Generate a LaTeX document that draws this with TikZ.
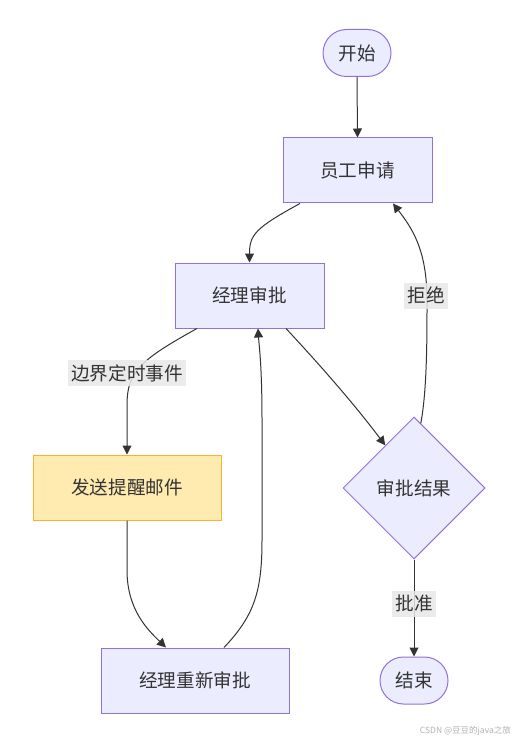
\documentclass[tikz,border=0pt]{standalone}
\usepackage{fontspec}
\setmainfont{Noto Sans CJK SC}
\usetikzlibrary{arrows.meta,shapes.geometric}
\definecolor{nfill}{HTML}{ECECFF}
\definecolor{nline}{HTML}{9370DB}
\definecolor{yfill}{HTML}{FFEBB0}
\definecolor{yline}{HTML}{FDB12F}
\definecolor{txt}{HTML}{333333}
\definecolor{lbl}{HTML}{E8E8E8}
\tikzset{
  base/.style={draw=nline,fill=nfill,line width=1pt,text=txt,inner sep=0pt,font=\fontsize{18.6}{22}\selectfont},
  box/.style={base,rectangle,minimum height=65pt},
  term/.style={base,rectangle,rounded corners=23.5pt,minimum width=68pt,minimum height=47pt},
  decision/.style={base,diamond,minimum width=142pt,minimum height=142pt},
  remind/.style={box,draw=yline,fill=yfill},
  edge/.style={draw=txt,line width=1pt,-{Triangle[length=9pt,width=9pt]}},
  elabel/.style={fill=lbl,fill opacity=0.85,text opacity=1,text=txt,inner xsep=3.5pt,inner ysep=0pt,minimum height=26pt,font=\fontsize{18.6}{22}\selectfont}
}
\begin{document}
\begin{tikzpicture}[x=1pt,y=-1pt]
\useasboundingbox (0,0) rectangle (516,743);
\fill[white] (0,0) rectangle (516,743);
\node[term] (s) at (357,53) {开始};
\node[box,minimum width=149pt] (b) at (357.5,170.5) {员工申请};
\node[box,minimum width=149pt] (c) at (249.5,295.5) {经理审批};
\node[decision] (d) at (414,488) {审批结果};
\node[term] (e) at (414,680.5) {结束};
\node[remind,minimum width=188pt] (f) at (127,487.5) {发送提醒邮件};
\node[box,minimum width=188pt] (g) at (195,680.5) {经理重新审批};

\draw[edge] (s.south) -- (b.north);
\draw[edge] ([xshift=-57.5pt]b.south) .. controls (255,228) and (249.5,235) .. (c.north);
\draw[edge] ([xshift=-52.5pt]c.south) .. controls (140,360) and (127,372) .. (127,405) -- (f.north);
\draw[edge] ([xshift=36.5pt]c.south) .. controls (320,365) and (355,405) .. (d.124);
\draw[edge] (d.84) .. controls (427,390) and (427,340) .. (427,300) .. controls (427,250) and (412,228) .. ([xshift=35.5pt]b.south);
\draw[edge] (d.south) -- (e.north);
\draw[edge] (f.south) -- (127,570) .. controls (127,610) and (148,630) .. ([xshift=-29pt]g.north);
\draw[edge] ([xshift=29pt]g.north) .. controls (255,615) and (262,590) .. (262,540) -- (262,420) .. controls (262,365) and (259,345) .. ([xshift=8.5pt]c.south);

\node[elabel] (l1) at (127,373) {边界定时事件};
\node[elabel] (l2) at (426,295.5) {拒绝};
\node[elabel] (l3) at (414,603.5) {批准};
\node[text=black!30,font=\fontsize{8.5}{10}\selectfont,anchor=east,inner sep=0pt] (wm) at (511,731) {CSDN @豆豆的java之旅};
\end{tikzpicture}
\end{document}
